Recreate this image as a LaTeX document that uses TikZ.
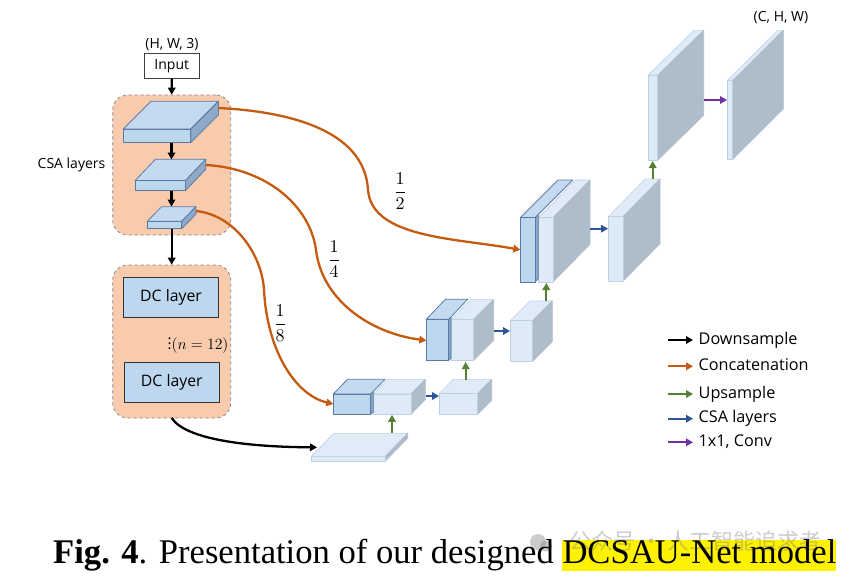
\documentclass[tikz,border=0pt]{standalone}
\usepackage{fontspec}
\setmainfont{Open Sans}
\newfontfamily\capfont{Liberation Serif}
\newfontfamily\cjk{Noto Sans CJK SC}
\usetikzlibrary{arrows.meta,fit,calc}
\definecolor{panelfill}{HTML}{F8CBAD}
\definecolor{panelline}{HTML}{7F7F8C}
\definecolor{bfront}{HTML}{BDD7EE}
\definecolor{btop}{HTML}{C5DAF0}
\definecolor{bside}{HTML}{8FAAC8}
\definecolor{bline}{HTML}{5B7BA6}
\definecolor{lfront}{HTML}{DEEAF6}
\definecolor{ltop}{HTML}{E0EBF8}
\definecolor{lside}{HTML}{AFBCCA}
\definecolor{lline}{HTML}{BDD0E4}
\definecolor{cOrange}{HTML}{C55A11}
\definecolor{cGreen}{HTML}{548235}
\definecolor{cBlue}{HTML}{2F5597}
\definecolor{cPurple}{HTML}{7030A0}
\tikzset{
  x=1pt,y=-1pt,
  panel/.style={draw=panelline,fill=panelfill,dashed,line width=0.7pt,rounded corners=15pt},
  plainbox/.style={draw=black!75,line width=0.8pt,inner sep=0pt,text height=11pt,text depth=3pt},
  dcbox/.style={draw=black!80,fill=bfront,line width=0.8pt,inner sep=0pt,text height=12pt,text depth=3pt},
  bluefront/.style={draw=bline,fill=bfront,line width=0.8pt},
  bluetop/.style={draw=bline,fill=btop,line width=0.8pt,line join=round},
  blueside/.style={draw=bline,fill=bside,line width=0.8pt,line join=round},
  lightfront/.style={draw=lline,fill=lfront,line width=0.6pt},
  lighttop/.style={draw=lline,fill=ltop,line width=0.6pt,line join=round},
  lightside/.style={draw=lside,fill=lside,line width=0.6pt,line join=round},
  lab/.style={inner sep=0pt,font=\fontsize{14}{17}\selectfont,text height=11pt,text depth=3pt},
  leg/.style={inner sep=0pt,anchor=west,font=\fontsize{16.2}{19}\selectfont,text height=12pt,text depth=3.5pt},
  frac/.style={inner sep=0pt},
  conn/.style={-{Triangle[length=7pt,width=7.5pt]},line width=2.3pt},
  kconn/.style={conn,draw=black},
  oconn/.style={conn,draw=cOrange},
  gconn/.style={conn,draw=cGreen},
  bconn/.style={conn,draw=cBlue},
  pconn/.style={conn,draw=cPurple},
}
% name, x0,y0,x1,y1, dx,dy, style prefix
\newcommand\cuboid[8]{%
  \coordinate (#1-nw) at (#2,#3);
  \coordinate (#1-se) at (#4,#5);
  \path[#8top] (#2,#3) -- ++(#6,-#7) -- ($(#4,#3)+(#6,-#7)$) -- (#4,#3) -- cycle;
  \path[#8side] (#4,#3) -- ++(#6,-#7) -- ($(#4,#5)+(#6,-#7)$) -- (#4,#5) -- cycle;
  \node[fit=(#1-nw)(#1-se),inner sep=0pt,#8front] (#1) {};
}
% a blue block standing in front of a light one: only a sliver (#8 wide) of its side shows
\newcommand\frontblock[8]{%
  \coordinate (#1-nw) at (#2,#3);
  \coordinate (#1-se) at (#4,#5);
  \path[blueside] (#4,#3) -- ++(#8,-#8) -- ($(#4,#5)+(#8,-#8)$) -- (#4,#5) -- cycle;
  \path[bluetop] (#2,#3) -- ++(#6,-#7) -- ($(#4,#3)+(#6,-#7)$) -- (#4,#3) -- cycle;
  \node[fit=(#1-nw)(#1-se),inner sep=0pt,bluefront] (#1) {};
}
\begin{document}
\begin{tikzpicture}
\useasboundingbox (0,0) rectangle (852,579);
\fill[white] (0,0) rectangle (852,579);

% panels
\node[panel,minimum width=118pt,minimum height=140pt,inner sep=0pt] (csa) at (171.7,165) {};
\node[panel,minimum width=118pt,minimum height=153pt,inner sep=0pt] (dcp) at (171.7,341.5) {};

% input
\node[plainbox,minimum width=55pt,minimum height=25pt,font=\fontsize{14}{17}\selectfont] (input) at (171.8,65.8) {Input};
\node[lab] (shapeIn) at (172,44.5) {(H, W, 3)};
\node[lab] (csalabel) at (71.5,164.5) {CSA layers};

% encoder blocks
\cuboid{e1}{123.3}{129}{190.7}{142.7}{27.7}{27.7}{blue}
\cuboid{e2}{135}{180.7}{185.3}{190.7}{20.4}{21.4}{blue}
\cuboid{e3}{147.3}{221.3}{181.7}{228.7}{14.3}{14.6}{blue}

% DC
\node[dcbox,minimum width=95.4pt,minimum height=40pt,font=\fontsize{15.8}{18}\selectfont] (dc1) at (171,297.3) {DC layer};
\node[dcbox,minimum width=95pt,minimum height=40pt,font=\fontsize{15.8}{18}\selectfont] (dc2) at (171.8,382.3) {DC layer};
\node[inner sep=0pt,font=\fontsize{11.5}{14}\selectfont] (nlab) at (198,341.7) {\scalebox{1.3}{$\vdots(n=12)$}};

% bottom
\cuboid{b0}{311}{456.7}{385}{461.5}{22.7}{23.4}{light}

% level 1/8
\cuboid{l3l}{373.3}{394}{411}{414.3}{14.3}{14.7}{light}
\frontblock{l3b}{333.3}{394}{370.7}{414.3}{14.3}{14.7}{2.6}
\cuboid{l3o}{439.3}{393.5}{477.7}{414.3}{14}{14.2}{light}

% level 1/4
\cuboid{l2l}{451}{319.3}{473.7}{360.3}{20}{20}{light}
\frontblock{l2b}{426.3}{319.3}{448.7}{360.3}{19}{20}{2.3}
\cuboid{l2o}{510.3}{320.7}{532.7}{361.3}{19.7}{19.7}{light}

% level 1/2
\cuboid{l1l}{538.3}{217.7}{553}{282}{37}{37.7}{light}
\frontblock{l1b}{520.3}{217.7}{535}{282}{37.7}{37.7}{3.3}
\cuboid{l1o}{608.3}{216.7}{623}{281.3}{37}{37.7}{light}

% top
\cuboid{t1}{648}{75.3}{657.7}{160.3}{46}{45}{light}
\cuboid{t2}{727.3}{80.7}{732.7}{159.3}{50.6}{50.4}{light}
\node[lab] (shapeOut) at (781,17.5) {(C, H, W)};

% fractions
\node[frac] (f2) at (400,191) {\scalebox{1.8}{$\displaystyle\frac{1}{2}$}};
\node[frac] (f4) at (334,259) {\scalebox{1.8}{$\displaystyle\frac{1}{4}$}};
\node[frac] (f8) at (280,323) {\scalebox{1.8}{$\displaystyle\frac{1}{8}$}};

% connector ends
\coordinate (e1top) at (171.5,159.5);
\coordinate (e2top) at (171.5,206.5);
\coordinate (o1s) at (218.3,108);
\coordinate (o2s) at (205.7,165);
\coordinate (o3s) at (196,211);
\coordinate (o1e) at (520.3,249.8);
\coordinate (o2e) at (426.3,340.5);
\coordinate (o3e) at (333.3,404);
\coordinate (b0left) at (317,447.3);
\coordinate (dcpout) at (171.7,418);
\coordinate (g1a) at (392,433);
\coordinate (g1b) at (392,414.8);
\coordinate (g2a) at (465.7,379.5);
\coordinate (g2b) at (465.7,362);
\coordinate (g3a) at (546.3,301);
\coordinate (g3b) at (546.3,283);
\coordinate (g4a) at (652.7,179);
\coordinate (g4b) at (652.7,161);
\coordinate (s1a) at (426,396);
\coordinate (s2a) at (493.7,331);
\coordinate (s3a) at (590,228.7);
\coordinate (p1a) at (703.7,100);

% black
\draw[kconn] (input.south) -- (csa.north);
\draw[kconn] (e1.south -| e1top) -- (e1top);
\draw[kconn] (e2.south -| e2top) -- (e2top);
\draw[kconn] (e3.south -| dcp.north) -- (dcp.north);
\draw[kconn] (dcpout) .. controls (186,440) and (250,447) .. (b0left);

% orange
\draw[oconn] (o1s) .. controls (300,112) and (365,135) .. (368,190) .. controls (372,238) and (455,238) .. (o1e);
\draw[oconn] (o2s) .. controls (265,168) and (310,205) .. (316,250) .. controls (322,300) and (370,333) .. (o2e);
\draw[oconn] (o3s) .. controls (235,215) and (262,255) .. (264,290) .. controls (267,350) and (295,395) .. (o3e);

% green
\draw[gconn] (g1a) -- (g1b);
\draw[gconn] (g2a) -- (g2b);
\draw[gconn] (g3a) -- (g3b);
\draw[gconn] (g4a) -- (g4b);

% blue
\draw[bconn] (s1a) -- (s1a -| l3o.west);
\draw[bconn] (s2a) -- (s2a -| l2o.west);
\draw[bconn] (s3a) -- (s3a -| l1o.west);
% purple
\draw[pconn] (p1a) -- (p1a -| t2.west);

% legend
\foreach \nm/\y/\st/\tx in {d/340/kconn/Downsample,c/366.3/oconn/Concatenation,u/394/gconn/Upsample,s/418.7/bconn/CSA layers,p/442.3/pconn/{1x1, Conv}}{
  \node[leg] (leg\nm) at (698.5,\y) {\tx};
  \coordinate (legs\nm) at (668,\y);
  \draw[\st,line width=1.8pt,shorten >=5.5pt] (legs\nm) -- (leg\nm.west |- legs\nm);
}

% caption
\fill[yellow] (562,540) rectangle (836,570.5);
\begin{scope}[opacity=0.4]
\fill[gray] (538,542) ellipse (8pt and 8pt);
\fill[gray] (546,546) ellipse (6pt and 5.5pt);
\node[inner sep=0pt,anchor=west,text=gray,font=\cjk\fontsize{22}{24}\selectfont] (wm) at (569,541) {公众号 · 人工智能追求者};
\end{scope}
\node[inner sep=0pt,anchor=base west,font=\capfont\fontsize{34.6}{38}\selectfont] (cap) at (53,563) {\textbf{Fig. 4}. Presentation of our designed DCSAU-Net model};
\end{tikzpicture}
\end{document}
